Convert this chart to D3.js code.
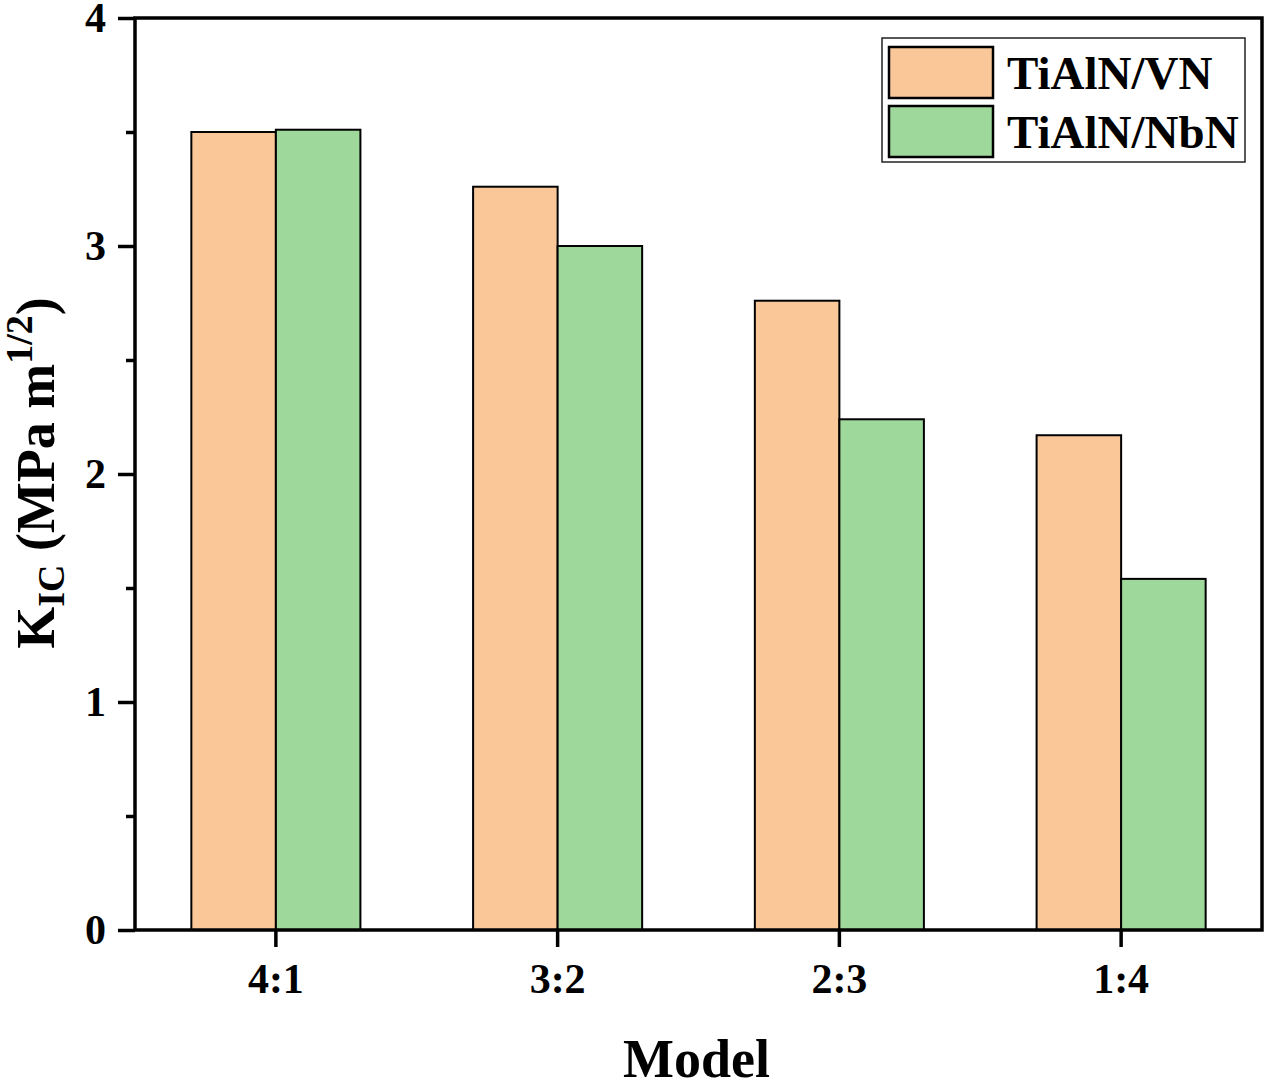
<!DOCTYPE html>
<html>
<head>
<meta charset="utf-8">
<script src="https://cdn.jsdelivr.net/npm/d3@7"></script>
<style>
  html, body { margin: 0; padding: 0; background: #fff; overflow: hidden; }
  svg { display: block; }
  svg text { font-family: "Liberation Serif", "Times New Roman", serif; font-weight: bold; fill: #000; }
</style>
</head>
<body>
<div id="chart"></div>
<script>
// data
var models = ['4:1', '3:2', '2:3', '1:4'];
var seriesNames = ['TiAlN/VN', 'TiAlN/NbN'];
var vnValues = [3.50, 3.26, 2.76, 2.17];
var nbnValues = [3.51, 3.00, 2.24, 1.54];
var yTicks = [0, 1, 2, 3, 4];
var yMinorTicks = [0.5, 1.5, 2.5, 3.5];
var colors = ['#fac898', '#9ed89b'];

var width = 1267,
  height = 1083,
  margin = { top: 18, right: 5, bottom: 153, left: 135 },
  innerWidth = width - margin.left - margin.right,
  innerHeight = height - margin.top - margin.bottom;

var svg = d3.select('#chart').append('svg')
  .attr('width', width)
  .attr('height', height);

var g = svg.append('g')
  .attr('transform', translation(margin.left, margin.top));

var xScale = d3.scaleBand()
  .domain(models)
  .range([0, innerWidth])
  .padding(0);

var subScale = d3.scaleBand()
  .domain(seriesNames)
  .range([xScale.bandwidth() * 0.2, xScale.bandwidth() * 0.8])
  .padding(0);

var yScale = d3.scaleLinear()
  .domain([0, 4])
  .range([innerHeight, 0]);

var rows = models.map(function (m, i) {
  return { model: m, values: [vnValues[i], nbnValues[i]] };
});

// BARS
var groups = g.selectAll('.grp')
  .data(rows)
  .enter().append('g')
  .attr('class', 'grp')
  .attr('transform', function (d) { return translation(xScale(d.model), 0); });

groups.selectAll('rect')
  .data(function (d) {
    return d.values.map(function (v, j) { return { name: seriesNames[j], value: v, idx: j }; });
  })
  .enter().append('rect')
  .attr('x', function (d) { return subScale(d.name); })
  .attr('y', function (d) { return yScale(d.value); })
  .attr('width', subScale.bandwidth())
  .attr('height', function (d) { return innerHeight - yScale(d.value); })
  .attr('fill', function (d) { return colors[d.idx]; })
  .attr('stroke', '#000')
  .attr('stroke-width', 2);

// AXES
var yAxis = d3.axisLeft(yScale)
  .tickValues(yTicks)
  .tickSize(17)
  .tickPadding(12)
  .tickFormat(d3.format('d'));

var yAxisMinor = d3.axisLeft(yScale)
  .tickValues(yMinorTicks)
  .tickSize(9)
  .tickFormat('');

var xAxis = d3.axisBottom(xScale)
  .tickSize(17)
  .tickPadding(16);

function styleAxis(sel) {
  sel.attr('font-size', 42).attr('font-family', null);
  sel.select('.domain').remove();
  sel.selectAll('line').attr('stroke', '#000').attr('stroke-width', 3.5);
  sel.selectAll('text').style('font-size', '42px');
}

g.append('g').call(yAxis).call(styleAxis);
g.append('g').call(yAxisMinor).call(styleAxis)
  .selectAll('text').remove();
g.append('g')
  .attr('transform', translation(0, innerHeight))
  .call(xAxis)
  .call(styleAxis);

// frame
g.append('rect')
  .attr('x', 0)
  .attr('y', 0)
  .attr('width', innerWidth)
  .attr('height', innerHeight)
  .attr('fill', 'none')
  .attr('stroke', '#000')
  .attr('stroke-width', 3.5);

// AXIS TITLES
svg.append('text')
  .attr('x', margin.left + innerWidth / 2 - 2)
  .attr('y', 1077)
  .attr('text-anchor', 'middle')
  .style('font-size', '54px')
  .text('Model');

var yTitle = svg.append('text')
  .attr('transform', translation(54, 473) + 'rotate(-90)')
  .attr('text-anchor', 'middle')
  .style('font-size', '54px');
yTitle.append('tspan').text('K');
yTitle.append('tspan').attr('dy', 10).style('font-size', '38px').text('IC');
yTitle.append('tspan').attr('dy', -10).text(' (MPa m');
yTitle.append('tspan').attr('dy', -22).style('font-size', '38px').text('1/2');
yTitle.append('tspan').attr('dy', 22).text(')');

// LEGEND
var legend = svg.append('g')
  .attr('transform', translation(882, 38));

legend.append('rect')
  .attr('width', 363)
  .attr('height', 124)
  .attr('fill', '#fff')
  .attr('stroke', '#222')
  .attr('stroke-width', 1.5);

var items = legend.selectAll('.item')
  .data(seriesNames)
  .enter().append('g')
  .attr('class', 'item')
  .attr('transform', function (d, i) { return translation(7, 9 + i * 59); });

items.append('rect')
  .attr('width', 104)
  .attr('height', 51)
  .attr('fill', function (d, i) { return colors[i]; })
  .attr('stroke', '#000')
  .attr('stroke-width', 2.5);

items.append('text')
  .attr('x', 118)
  .attr('y', 42)
  .style('font-size', '47px')
  .text(function (d) { return d; });

function translation(x, y) {
  return 'translate(' + x + ',' + y + ')';
}
</script>
</body>
</html>
